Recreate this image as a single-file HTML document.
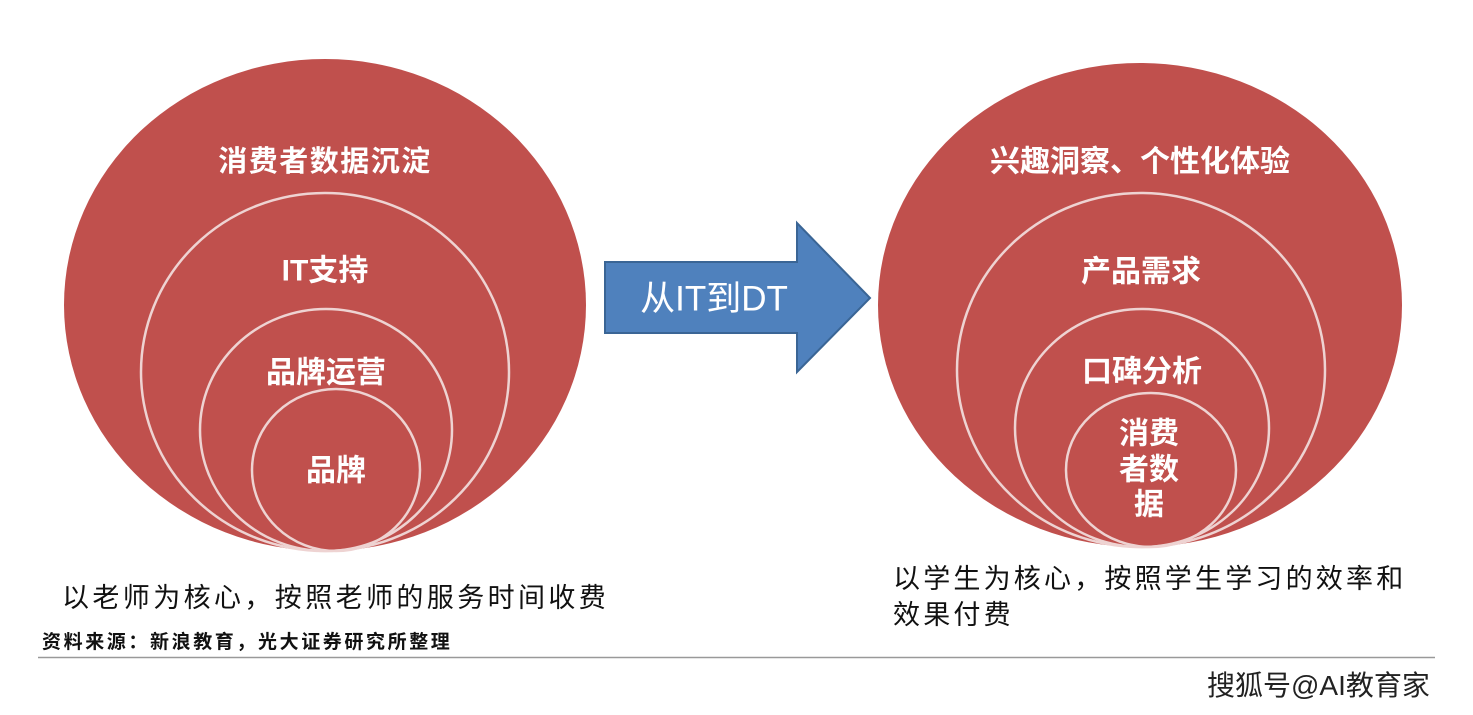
<!DOCTYPE html>
<html><head><meta charset="utf-8"><style>
html,body{margin:0;padding:0;background:#fff;}
body{width:1473px;height:715px;overflow:hidden;position:relative;}
svg{position:absolute;left:0;top:0;}
</style></head><body>
<svg width="1473" height="715" viewBox="0 0 1473 715" xmlns="http://www.w3.org/2000/svg">
<g fill="#c0504d">
<ellipse cx="325" cy="305" rx="261" ry="246"/>
<ellipse cx="1140" cy="305" rx="262" ry="242"/>
</g>
<g fill="none" stroke="#eed3d2" stroke-width="2.5">
<ellipse cx="325" cy="372" rx="184" ry="179"/>
<ellipse cx="326" cy="430" rx="126" ry="121"/>
<ellipse cx="336" cy="470" rx="84" ry="81"/>
<ellipse cx="1141" cy="370" rx="184" ry="177"/>
<ellipse cx="1142" cy="428" rx="127" ry="119"/>
<ellipse cx="1151" cy="470" rx="85" ry="77"/>
</g>
<g fill="#fff" font-family="Liberation Sans, Noto Sans CJK SC, sans-serif" font-weight="bold" font-size="30" text-anchor="middle" dominant-baseline="central">
<text x="325" y="162" font-size="29" letter-spacing="1.5">消费者数据沉淀</text>
<text x="325" y="271">IT支持</text>
<text x="326" y="373">品牌运营</text>
<text x="336" y="471">品牌</text>
<text x="1140" y="162">兴趣洞察、个性化体验</text>
<text x="1141" y="272">产品需求</text>
<text x="1142" y="372">口碑分析</text>
<text x="1149" y="434">消费</text>
<text x="1149" y="470">者数</text>
<text x="1149" y="505">据</text>
</g>
<polygon points="605,262 797,262 797,223 870,298 797,372 797,333 605,333" fill="#4f81bd" stroke="#3a6595" stroke-width="2"/>
<text x="714" y="299" fill="#fff" font-family="Liberation Sans, Noto Sans CJK SC, sans-serif" font-size="35" text-anchor="middle" dominant-baseline="central">从IT到DT</text>
<g fill="#111" font-family="Liberation Sans, Noto Sans CJK SC, sans-serif" font-size="27">
<text x="62" y="607" letter-spacing="3.4">以老师为核心，按照老师的服务时间收费</text>
<text x="893" y="588" letter-spacing="3.2">以学生为核心，按照学生学习的效率和</text>
<text x="893" y="624" letter-spacing="3.2">效果付费</text>
</g>
<text x="42" y="648" fill="#111" font-family="Liberation Sans, Noto Sans CJK SC, sans-serif" font-size="19" font-weight="bold" letter-spacing="2.6">资料来源：新浪教育，光大证券研究所整理</text>
<line x1="38" y1="657.5" x2="1435" y2="657.5" stroke="#999" stroke-width="1.5"/>
<text x="1207" y="695" fill="#222" font-family="Liberation Sans, Noto Sans CJK SC, sans-serif" font-size="28">搜狐号@AI教育家</text>
</svg>
</body></html>
